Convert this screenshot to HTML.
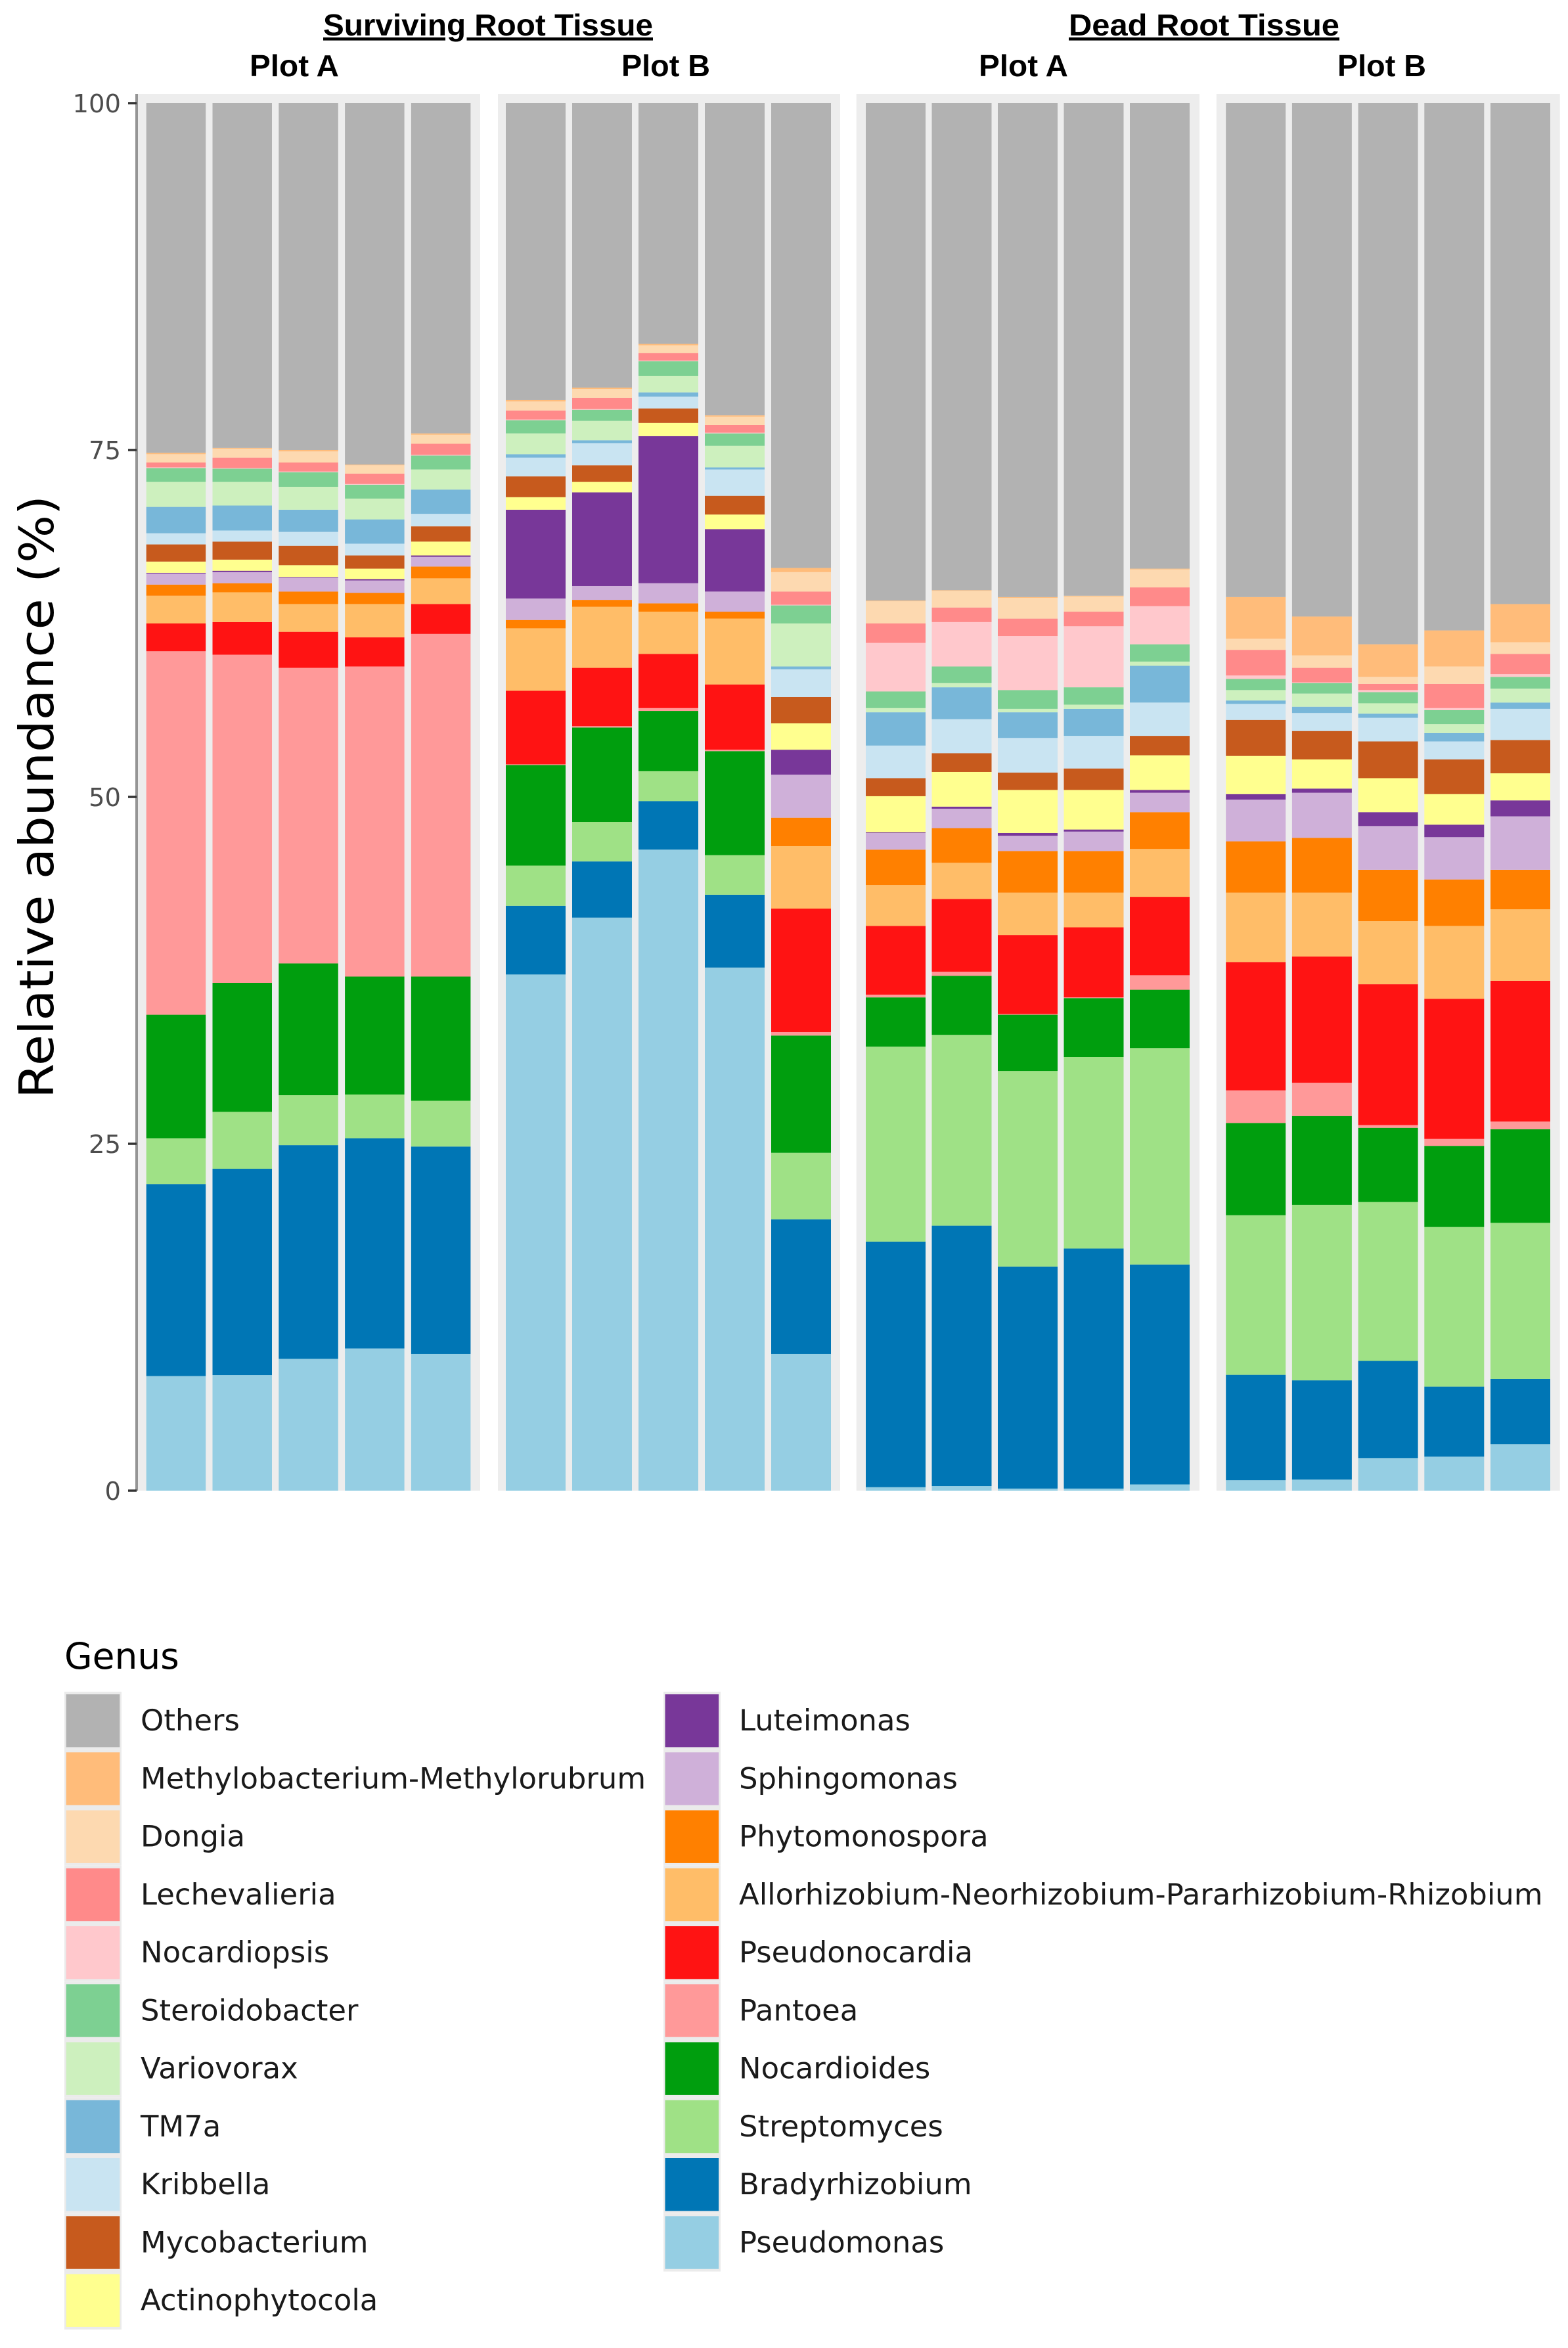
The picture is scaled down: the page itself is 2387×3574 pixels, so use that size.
<!DOCTYPE html>
<html lang="en">
<head>
<meta charset="utf-8">
<title>Relative abundance by genus</title>
<style>
html,body{margin:0;padding:0;background:#fff;}
svg{display:block;}
.hdr{font-family:"Liberation Sans",sans-serif;font-weight:700;fill:#000;}
.lg{font-family:"DejaVu Sans",sans-serif;font-size:44.9px;fill:#1a1a1a;}
</style>
</head>
<body>
<svg id="chart" xmlns="http://www.w3.org/2000/svg" width="2387" height="3574" viewBox="0 0 2387 3574">
  <rect x="0" y="0" width="2387" height="3574" fill="#ffffff"/>

  <text class="hdr" x="492" y="54" font-size="46" textLength="502" lengthAdjust="spacingAndGlyphs" text-decoration="underline">Surviving Root Tissue</text>
  <text class="hdr" x="1627" y="54" font-size="46" textLength="412" lengthAdjust="spacingAndGlyphs" text-decoration="underline">Dead Root Tissue</text>
  <text class="hdr" x="380" y="116" font-size="46" textLength="136" lengthAdjust="spacingAndGlyphs">Plot A</text>
  <text class="hdr" x="946" y="116" font-size="46" textLength="135" lengthAdjust="spacingAndGlyphs">Plot B</text>
  <text class="hdr" x="1490" y="116" font-size="46" textLength="136" lengthAdjust="spacingAndGlyphs">Plot A</text>
  <text class="hdr" x="2036" y="116" font-size="46" textLength="135" lengthAdjust="spacingAndGlyphs">Plot B</text>

  <text transform="rotate(-90 81 1672)" x="81" y="1672" font-family="'DejaVu Sans',sans-serif" font-size="72" fill="#000" textLength="918" lengthAdjust="spacingAndGlyphs">Relative abundance (%)</text>

  <g id="panels"></g>
  <g id="axis"></g>

  <g>
    <text x="98" y="2540" font-family="'DejaVu Sans',sans-serif" font-size="55" fill="#000">Genus</text>

    <g><rect x="98" y="2575" width="87" height="88.3" fill="#ebebeb"/><rect x="100.7" y="2579" width="81.6" height="80.4" fill="#b2b2b2"/><text class="lg" x="214" y="2634">Others</text></g>
    <g><rect x="98" y="2663.3" width="87" height="88.3" fill="#ebebeb"/><rect x="100.7" y="2667.3" width="81.6" height="80.4" fill="#ffbc7a"/><text class="lg" x="214" y="2722.3">Methylobacterium-Methylorubrum</text></g>
    <g><rect x="98" y="2751.5" width="87" height="88.3" fill="#ebebeb"/><rect x="100.7" y="2755.5" width="81.6" height="80.4" fill="#fdd9b0"/><text class="lg" x="214" y="2810.5">Dongia</text></g>
    <g><rect x="98" y="2839.8" width="87" height="88.3" fill="#ebebeb"/><rect x="100.7" y="2843.8" width="81.6" height="80.4" fill="#ff8a8a"/><text class="lg" x="214" y="2898.8">Lechevalieria</text></g>
    <g><rect x="98" y="2928" width="87" height="88.3" fill="#ebebeb"/><rect x="100.7" y="2932" width="81.6" height="80.4" fill="#ffc8cc"/><text class="lg" x="214" y="2987">Nocardiopsis</text></g>
    <g><rect x="98" y="3016.3" width="87" height="88.3" fill="#ebebeb"/><rect x="100.7" y="3020.3" width="81.6" height="80.4" fill="#7dd092"/><text class="lg" x="214" y="3075.3">Steroidobacter</text></g>
    <g><rect x="98" y="3104.5" width="87" height="88.3" fill="#ebebeb"/><rect x="100.7" y="3108.5" width="81.6" height="80.4" fill="#cdf0be"/><text class="lg" x="214" y="3163.5">Variovorax</text></g>
    <g><rect x="98" y="3192.8" width="87" height="88.3" fill="#ebebeb"/><rect x="100.7" y="3196.8" width="81.6" height="80.4" fill="#78b7d9"/><text class="lg" x="214" y="3251.8">TM7a</text></g>
    <g><rect x="98" y="3281" width="87" height="88.3" fill="#ebebeb"/><rect x="100.7" y="3285" width="81.6" height="80.4" fill="#c9e4f2"/><text class="lg" x="214" y="3340">Kribbella</text></g>
    <g><rect x="98" y="3369.3" width="87" height="88.3" fill="#ebebeb"/><rect x="100.7" y="3373.3" width="81.6" height="80.4" fill="#c75a1d"/><text class="lg" x="214" y="3428.3">Mycobacterium</text></g>
    <g><rect x="98" y="3457.5" width="87" height="88.3" fill="#ebebeb"/><rect x="100.7" y="3461.5" width="81.6" height="80.4" fill="#ffff8f"/><text class="lg" x="214" y="3516.5">Actinophytocola</text></g>

    <g><rect x="1010" y="2575" width="87" height="88.3" fill="#ebebeb"/><rect x="1012.5" y="2579" width="81.6" height="80.4" fill="#783799"/><text class="lg" x="1125" y="2634">Luteimonas</text></g>
    <g><rect x="1010" y="2663.3" width="87" height="88.3" fill="#ebebeb"/><rect x="1012.5" y="2667.3" width="81.6" height="80.4" fill="#cfb0d9"/><text class="lg" x="1125" y="2722.3">Sphingomonas</text></g>
    <g><rect x="1010" y="2751.5" width="87" height="88.3" fill="#ebebeb"/><rect x="1012.5" y="2755.5" width="81.6" height="80.4" fill="#ff8000"/><text class="lg" x="1125" y="2810.5">Phytomonospora</text></g>
    <g><rect x="1010" y="2839.8" width="87" height="88.3" fill="#ebebeb"/><rect x="1012.5" y="2843.8" width="81.6" height="80.4" fill="#ffbd68"/><text class="lg" x="1125" y="2898.8">Allorhizobium-Neorhizobium-Pararhizobium-Rhizobium</text></g>
    <g><rect x="1010" y="2928" width="87" height="88.3" fill="#ebebeb"/><rect x="1012.5" y="2932" width="81.6" height="80.4" fill="#ff1313"/><text class="lg" x="1125" y="2987">Pseudonocardia</text></g>
    <g><rect x="1010" y="3016.3" width="87" height="88.3" fill="#ebebeb"/><rect x="1012.5" y="3020.3" width="81.6" height="80.4" fill="#ff9999"/><text class="lg" x="1125" y="3075.3">Pantoea</text></g>
    <g><rect x="1010" y="3104.5" width="87" height="88.3" fill="#ebebeb"/><rect x="1012.5" y="3108.5" width="81.6" height="80.4" fill="#009e0e"/><text class="lg" x="1125" y="3163.5">Nocardioides</text></g>
    <g><rect x="1010" y="3192.8" width="87" height="88.3" fill="#ebebeb"/><rect x="1012.5" y="3196.8" width="81.6" height="80.4" fill="#9fe186"/><text class="lg" x="1125" y="3251.8">Streptomyces</text></g>
    <g><rect x="1010" y="3281" width="87" height="88.3" fill="#ebebeb"/><rect x="1012.5" y="3285" width="81.6" height="80.4" fill="#0076b5"/><text class="lg" x="1125" y="3340">Bradyrhizobium</text></g>
    <g><rect x="1010" y="3369.3" width="87" height="88.3" fill="#ebebeb"/><rect x="1012.5" y="3373.3" width="81.6" height="80.4" fill="#95cee3"/><text class="lg" x="1125" y="3428.3">Pseudomonas</text></g>
  </g>
</svg>

<script>
// Values per genus; 20 samples: surviving A (5), surviving B (5), dead A (5), dead B (5).
const pseudomonas = [8.26,8.33,9.5,10.25,9.85, 37.2,41.3,46.2,37.7,9.85, .25,.33,.15,.15,.45, .75,.8,2.35,2.45,3.35];
const bradyrhizobium = [13.84,14.87,15.4,15.15,14.95, 4.95,4.05,3.5,5.25,9.7, 17.7,18.77,16,17.3,15.85, 7.6,7.15,7,5.05,4.7];
const streptomyces = [3.3,4.1,3.6,3.15,3.3, 2.9,2.85,2.15,2.85,4.8, 14.05,13.75,14.1,13.8,15.6, 11.5,12.65,11.45,11.5,11.25];
const nocardioides = [8.9,9.3,9.5,8.5,8.95, 7.25,6.8,4.35,7.5,8.45, 3.55,4.25,4.05,4.25,4.2, 6.65,6.4,5.35,5.85,6.75];
const pantoea = [26.2,23.65,21.3,22.35,24.7, .05,.1,.2,.1,.25, .2,.3,.05,.05,1.05, 2.35,2.4,.2,.5,.55];
const pseudonocardia = [2,2.35,2.6,2.1,2.15, 5.3,4.2,3.9,4.7,8.9, 4.95,5.25,5.7,5.05,5.65, 9.25,9.1,10.15,10.1,10.15];
const allorhizobium = [2,2.15,2,2.4,1.85, 4.5,4.4,3.05,4.75,4.5, 2.95,2.6,3.05,2.5,3.45, 5,4.6,4.55,5.25,5.15];
const phytomonospora = [.8,.65,.9,.8,.85, .6,.5,.6,.5,2.05, 2.55,2.5,3,3,2.65, 3.7,3.95,3.7,3.35,2.85];
const sphingomonas = [.8,.8,1,.9,.7, 1.55,1,1.45,1.45,3.1, 1.2,1.4,1.1,1.4,1.4, 3,3.25,3.15,3.05,3.85];
const luteimonas = [.05,.1,.05,.1,.1, 6.4,6.75,10.6,4.5,1.8, .05,.15,.2,.15,.2, .4,.3,1,.9,1.15];
const actinophytocola = [.81,.8,.85,.75,1, .9,.75,.95,1.05,1.9, 2.6,2.5,3.1,2.85,2.5, 2.75,2.1,2.45,2.2,1.95];
const mycobacterium = [1.24,1.3,1.4,.95,1.1, 1.5,1.2,1.05,1.35,1.9, 1.3,1.35,1.25,1.55,1.4, 2.6,2.05,2.65,2.5,2.4];
const kribbella = [.8,.8,1,.85,.9, 1.35,1.6,.85,1.9,2, 2.35,2.45,2.5,2.35,2.4, 1.15,1.3,1.7,1.3,2.25];
const tm7a = [1.9,1.8,1.6,1.75,1.75, .25,.2,.3,.15,.2, 2.4,2.3,1.85,1.95,2.65, .25,.45,.3,.6,.45];
const variovorax = [1.8,1.7,1.65,1.5,1.45, 1.5,1.4,1.2,1.55,3.1, .3,.3,.25,.3,.3, .75,.95,.75,.65,1];
const steroidobacter = [1,.96,1.05,1,1, .95,.8,1.05,.9,1.3, 1.2,1.2,1.35,1.25,1.25, .8,.75,.8,1,.85];
const nocardiopsis = [.05,.04,.05,.05,.05, .05,.05,.05,.05,.05, 3.5,3.2,3.9,4.4,2.75, .25,.05,.15,.15,.2];
const lechevalieria = [.35,.75,.65,.75,.8, .65,.8,.55,.55,.95, 1.4,1.05,1.25,1.05,1.35, 1.85,1.05,.45,1.75,1.45];
const dongia = [.6,.65,.8,.6,.65, .65,.65,.55,.6,1.4, 1.6,1.2,1.5,1.1,1.3, .8,.9,.5,1.25,.85];
const methylobacterium = [.1,.05,.1,.05,.1, .1,.1,.1,.1,.3, .05,.05,.05,.05,.05, 3,2.8,2.35,2.6,2.75];
const others = [25.2,24.85,25,26.05,23.8, 21.4,20.5,17.35,22.5,33.5, 35.85,35.1,35.6,35.5,33.55, 35.6,37,39,38,36.1];

const tickLabels = ["0","25","50","75","100"];
const tickValues = [0,25,50,75,100];

// Stack order, bottom to top
const stackOrder = [
  ["pseudomonas", pseudomonas, "#95cee3"],
  ["bradyrhizobium", bradyrhizobium, "#0076b5"],
  ["streptomyces", streptomyces, "#9fe186"],
  ["nocardioides", nocardioides, "#009e0e"],
  ["pantoea", pantoea, "#ff9999"],
  ["pseudonocardia", pseudonocardia, "#ff1313"],
  ["allorhizobium", allorhizobium, "#ffbd68"],
  ["phytomonospora", phytomonospora, "#ff8000"],
  ["sphingomonas", sphingomonas, "#cfb0d9"],
  ["luteimonas", luteimonas, "#783799"],
  ["actinophytocola", actinophytocola, "#ffff8f"],
  ["mycobacterium", mycobacterium, "#c75a1d"],
  ["kribbella", kribbella, "#c9e4f2"],
  ["tm7a", tm7a, "#78b7d9"],
  ["variovorax", variovorax, "#cdf0be"],
  ["steroidobacter", steroidobacter, "#7dd092"],
  ["nocardiopsis", nocardiopsis, "#ffc8cc"],
  ["lechevalieria", lechevalieria, "#ff8a8a"],
  ["dongia", dongia, "#fdd9b0"],
  ["methylobacterium", methylobacterium, "#ffbc7a"],
  ["others", others, "#b2b2b2"]
];

const NS = "http://www.w3.org/2000/svg";
const panelLayout = [
  {x:210,    w:521,   first:222.7,  step:100.8, bar:90.5},
  {x:758,    w:521,   first:770,    step:101,   bar:91},
  {x:1303.7, w:522.3, first:1318,   step:100.5, bar:91},
  {x:1851.8, w:522.9, first:1866.2, step:100.7, bar:91}
];
const plotTop = 157, plotBottom = 2269, panelTop = 143;

function yScale(v){ return plotBottom - (v/100)*(plotBottom-plotTop); }
function xScale(p,i){ return panelLayout[p].first + i*panelLayout[p].step; }
function mk(tag, attrs, parent){
  const el = document.createElementNS(NS, tag);
  for (const k in attrs) el.setAttribute(k, attrs[k]);
  parent.appendChild(el);
  return el;
}

const panelsG = document.getElementById("panels");
panelLayout.forEach(function(panel, p){
  const bg = mk("rect", {x:panel.x, y:panelTop, width:panel.w, height:plotBottom-panelTop, fill:"#ededed"}, panelsG);
  
  
  for (let i=0; i<5; i++){
    const idx = p*5+i;
    let cum = 0;
    stackOrder.forEach(function(series){
      const v = series[1][idx];
      const y0 = yScale(cum), y1 = yScale(cum+v);
      const seg = mk("rect", {x:xScale(p,i), y:y1, width:panel.bar, height:Math.max(y0-y1,0), fill:series[2]}, panelsG);
      
      
      cum += v;
    });
  }
});

const axisG = document.getElementById("axis");
const axisLine = mk("line", {x1:208, x2:208, y1:panelTop, y2:plotBottom, stroke:"#959595", "stroke-width":4}, axisG);


tickValues.forEach(function(t, i){
  const tick = mk("line", {x1:195, x2:208, y1:yScale(t), y2:yScale(t), stroke:"#333333", "stroke-width":3.5}, axisG);
  
  
  const label = mk("text", {x:184, y:yScale(t)+14, "text-anchor":"end", "font-family":"'DejaVu Sans',sans-serif", "font-size":38.5, fill:"#4d4d4d"}, axisG);
  label.textContent = tickLabels[i];
  
  
});
</script>
</body>
</html>
